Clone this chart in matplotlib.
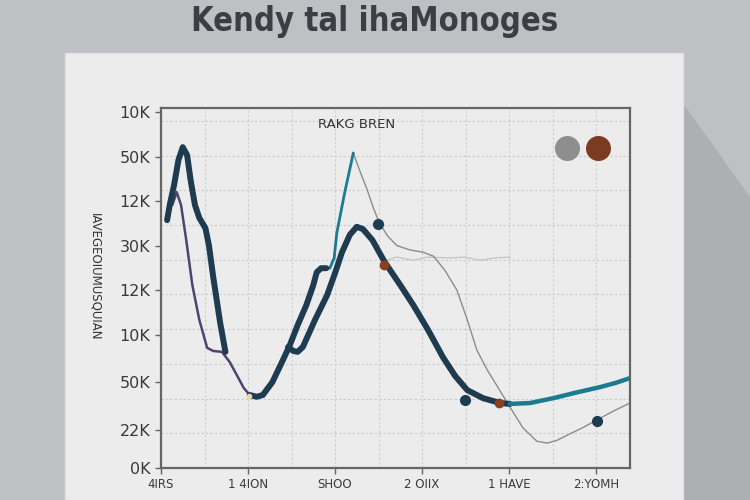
import numpy as np
import matplotlib
matplotlib.use("Agg")
import matplotlib.pyplot as plt
from matplotlib.patches import Rectangle, Polygon

# tick labels (as printed on the chart)
x_labels = ["4IRS", "1 4ION", "SHOO", "2 OIIX", "1 HAVE", "2:YOMH"]
x_ticks = [0, 1, 2, 3, 4, 5]
y_labels = ["0K", "22K", "50K", "10K", "12K", "30K", "12K", "50K", "10K"]
y_ticks = [0, 0.85, 1.93, 3, 4, 5, 6, 7, 8]

# thick navy line, first part (left peak)
navy1_x = [0.07, 0.10, 0.15, 0.20, 0.25, 0.30, 0.34, 0.39, 0.44, 0.51, 0.55, 0.60, 0.68, 0.74]
navy1_y = [5.57, 5.91, 6.36, 6.92, 7.21, 7.03, 6.47, 5.91, 5.62, 5.39, 5.01, 4.29, 3.26, 2.61]

# purple line
purple_x = [0.13, 0.18, 0.23, 0.29, 0.36, 0.44, 0.53, 0.60, 0.70, 0.79, 0.89, 0.95, 1.02]
purple_y = [5.91, 6.20, 5.91, 5.12, 4.11, 3.33, 2.70, 2.63, 2.61, 2.38, 2.02, 1.80, 1.64]

# thick navy, second part (valley up to the left shoulder)
navy2_x = [1.02, 1.10, 1.17, 1.28, 1.39, 1.48, 1.57, 1.67, 1.75, 1.79, 1.84, 1.90]
navy2_y = [1.64, 1.60, 1.64, 1.93, 2.38, 2.76, 3.21, 3.66, 4.11, 4.40, 4.49, 4.49]

# thin teal spike
teal_x = [1.87, 1.94, 1.99, 2.02, 2.11, 2.21]
teal_y = [4.49, 4.49, 4.72, 5.28, 6.18, 7.08]

# thin gray line
gray_x = [2.21, 2.29, 2.37, 2.44, 2.51, 2.61, 2.71, 2.86, 3.01, 3.13, 3.26, 3.40, 3.52, 3.63,
          3.75, 3.86, 4.01, 4.16, 4.32, 4.44, 4.55, 4.67, 4.84, 5.01, 5.20, 5.39]
gray_y = [7.08, 6.65, 6.25, 5.85, 5.50, 5.20, 5.00, 4.90, 4.85, 4.76, 4.45, 4.00, 3.33, 2.65,
          2.20, 1.85, 1.37, 0.90, 0.60, 0.56, 0.62, 0.74, 0.90, 1.08, 1.28, 1.46]

# faint wiggle
faint_x = [2.60, 2.71, 2.90, 3.06, 3.32, 3.49, 3.67, 3.84, 4.01]
faint_y = [4.67, 4.74, 4.67, 4.74, 4.72, 4.74, 4.67, 4.72, 4.74]

# thick navy, main hump
navy3_x = [1.46, 1.52, 1.57, 1.63, 1.77, 1.91, 2.00, 2.08, 2.17, 2.25, 2.32, 2.43, 2.57,
           2.75, 2.90, 3.07, 3.24, 3.38, 3.52, 3.70, 3.90, 4.01]
navy3_y = [2.72, 2.63, 2.61, 2.72, 3.33, 3.89, 4.38, 4.85, 5.24, 5.42, 5.37, 5.12, 4.63,
           4.11, 3.66, 3.10, 2.49, 2.07, 1.75, 1.57, 1.46, 1.44]

# teal tail on the right
tail_x = [4.01, 4.24, 4.51, 4.76, 5.05, 5.22, 5.39]
tail_y = [1.44, 1.46, 1.57, 1.69, 1.82, 1.91, 2.02]

# loose dots
dot_navy_x = [2.49, 3.49, 5.01]
dot_navy_y = [5.48, 1.53, 1.06]
dot_brown_x = [2.56, 3.89]
dot_brown_y = [4.56, 1.46]

navy = "#1f3b50"
purple = "#4f4373"
teal = "#1b7b90"
gray = "#8c8c8c"
brown = "#8a3f22"

fig = plt.figure(figsize=(7.5, 5), dpi=100)
fig.patch.set_facecolor("#bfc0c4")

# shadow and paper, behind the axes
fig.patches.append(Polygon([(0.9107, 0.794), (1.0, 0.606), (1.0, 0.0), (0.9107, 0.0)],
                           closed=True, transform=fig.transFigure, facecolor="#aeafb3",
                           edgecolor="none", zorder=-2))
fig.patches.append(Rectangle((0.0867, 0.0), 0.824, 0.894, transform=fig.transFigure,
                             facecolor="#ececec", edgecolor="#e2e2e2", zorder=-1))

fig.text(0.5, 0.958, "Kendy tal ihaMonoges", ha="center", va="center",
         fontsize=23.5, fontweight="bold", fontstretch="condensed", color="#3b3e44",
         family="DejaVu Sans")

ax = fig.add_axes([0.2147, 0.064, 0.6253, 0.72])
ax.set_facecolor("#ececec")
ax.set_xlim(0, 5.39)
ax.set_ylim(0, 8.09)

for v in np.arange(0.5, 5.39, 0.5):
    ax.axvline(v, color="#cdcdcd", lw=0.8, ls=(0, (2, 2)), zorder=0)
for h in np.arange(0.78, 8.09, 0.78):
    ax.axhline(h, color="#c9c9c9", lw=0.8, ls=(0, (2, 2)), zorder=0)

ax.plot(faint_x, faint_y, color="#c6c6c6", lw=1.0, zorder=1)
ax.plot(gray_x, gray_y, color=gray, lw=1.0, zorder=2)
ax.plot(purple_x, purple_y, color=purple, lw=1.8, zorder=3, solid_capstyle="round")
ax.plot(teal_x, teal_y, color=teal, lw=2.0, zorder=3, solid_capstyle="round")
for xs, ys in [(navy1_x, navy1_y), (navy2_x, navy2_y), (navy3_x, navy3_y)]:
    ax.plot(xs, ys, color=navy, lw=4.3, zorder=4, solid_capstyle="round",
            solid_joinstyle="round")
ax.plot(tail_x, tail_y, color=teal, lw=3.2, zorder=4, solid_capstyle="round")

ax.plot(dot_navy_x, dot_navy_y, "o", color=navy, ms=7, zorder=5)
ax.plot(dot_brown_x, dot_brown_y, "o", color=brown, ms=6, zorder=6)
ax.plot([1.01], [1.62], "o", color="#e8d9a8", ms=3, zorder=5)

# legend-like circles
ax.plot([0.866], [0.889], "o", color="#8e8e8e", ms=17, transform=ax.transAxes, clip_on=False)
ax.plot([0.932], [0.889], "o", color="#7b3a22", ms=17, transform=ax.transAxes, clip_on=False)
ax.text(0.418, 0.953, "RAKG BREN", transform=ax.transAxes, ha="center", va="center",
        fontsize=9.5, color="#333333")

ax.set_xticks(x_ticks)
ax.set_xticklabels(x_labels, fontsize=8.5, color="#3a3a3a")
ax.set_yticks(y_ticks)
ax.set_yticklabels(y_labels, fontsize=11.5, color="#3a3a3a")
ax.tick_params(length=4, color="#666666", width=1)
ax.set_ylabel("IAVEGEOIUMUSQUIAN", rotation=-90, fontsize=8.5, color="#333333")
ax.yaxis.set_label_coords(-0.155, 0.53)

for s in ax.spines.values():
    s.set_color("#666666")
    s.set_linewidth(1.6)

fig.savefig("out.png", dpi=100, facecolor=fig.get_facecolor())
